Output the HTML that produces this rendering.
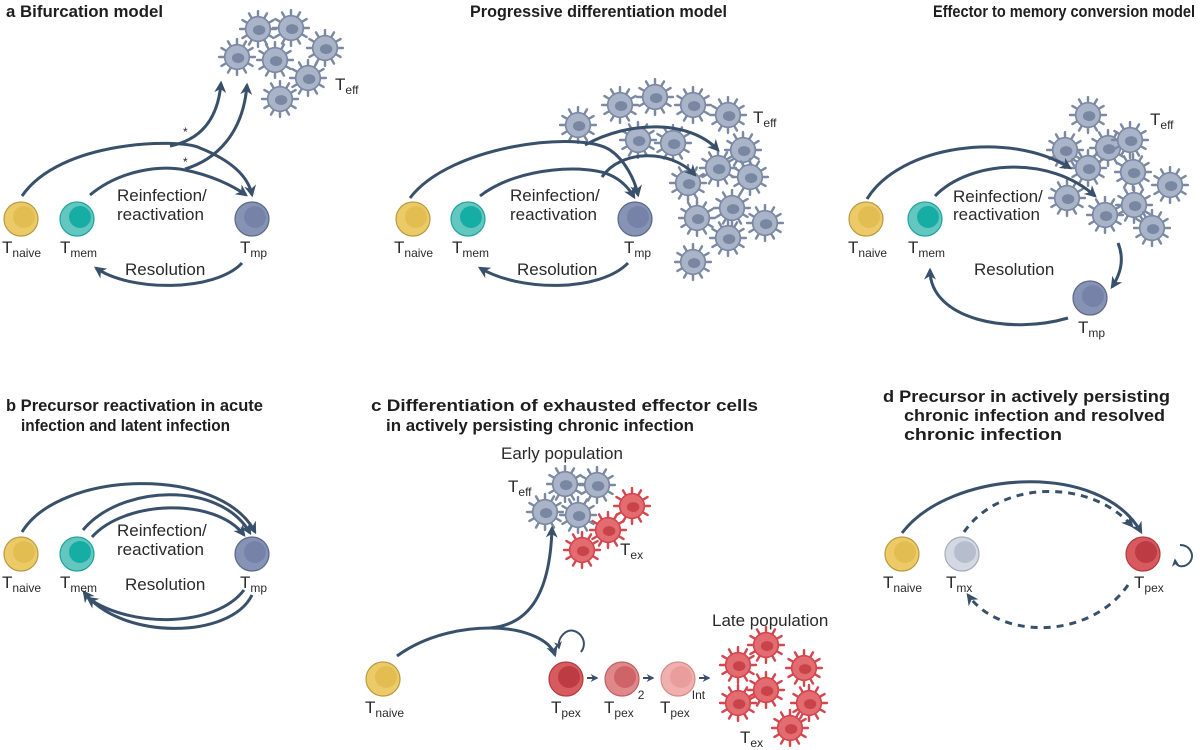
<!DOCTYPE html>
<html><head><meta charset="utf-8"><style>
html,body{margin:0;padding:0;background:#fff}
svg{display:block}
text{font-family:"Liberation Sans",sans-serif;fill:#2a2a2a}
.h{font-weight:bold;font-size:16.5px;fill:#1e1e1e}
.l{font-size:17px}
.s{font-size:12px}
.ar{fill:none;stroke:#39506b;stroke-width:3;marker-end:url(#ah)}
.ar2{fill:none;stroke:#39506b;stroke-width:2;marker-end:url(#ah)}
.dash{stroke-dasharray:7 6}
</style></head><body>
<svg width="1200" height="750" viewBox="0 0 1200 750" xmlns="http://www.w3.org/2000/svg">
<defs>
<marker id="ah" viewBox="0 0 10 10" refX="8" refY="5" markerWidth="4" markerHeight="4" orient="auto"><path d="M0,0 L10,5 L0,10 L3,5z" fill="#39506b"/></marker>
<g id="sg"><g transform="scale(1.12)">
<g stroke="#7b89a3" stroke-width="2.2" stroke-linecap="round">
<path d="M10,0H16M8.66,5L13.86,8M5,8.66L8,13.86M0,10V16M-5,8.66L-8,13.86M-8.66,5L-13.86,8M-10,0H-16M-8.66,-5L-13.86,-8M-5,-8.66L-8,-13.86M0,-10V-16M5,-8.66L8,-13.86M8.66,-5L13.86,-8"/>
</g>
<circle r="11" fill="#a9b4c8" stroke="#7b89a3" stroke-width="1.5"/>
<ellipse cx="1" cy="1" rx="5.5" ry="4.5" fill="#7a87a2"/>
</g></g>
<g id="sr"><g transform="scale(1.12)">
<g stroke="#d5474e" stroke-width="2.2" stroke-linecap="round">
<path d="M10,0H16M8.66,5L13.86,8M5,8.66L8,13.86M0,10V16M-5,8.66L-8,13.86M-8.66,5L-13.86,8M-10,0H-16M-8.66,-5L-13.86,-8M-5,-8.66L-8,-13.86M0,-10V-16M5,-8.66L8,-13.86M8.66,-5L13.86,-8"/>
</g>
<circle r="11" fill="#e26c70" stroke="#d5474e" stroke-width="1.5"/>
<ellipse cx="1" cy="1" rx="5.5" ry="4.5" fill="#c9434a"/>
</g></g>
<g id="cn"><circle r="17" fill="#ecca68" stroke="#b99b3e" stroke-width="1.2"/><circle cx="3" cy="-2" r="11" fill="#e2bd52"/></g>
<g id="cm"><circle r="17" fill="#63c6bf" stroke="#1ea39b" stroke-width="1.2"/><circle cx="3" cy="-2" r="11" fill="#16aea4"/></g>
<g id="cp"><circle r="17" fill="#8793b5" stroke="#5a6888" stroke-width="1.2"/><circle cx="3" cy="-2" r="11" fill="#7682a8"/></g>
<g id="cx"><circle r="17" fill="#d3d8e3" stroke="#a3abbd" stroke-width="1.2"/><circle cx="3" cy="-2" r="11" fill="#b6bdcc"/></g>
<g id="ce"><circle r="17" fill="#d75a5f" stroke="#b43a40" stroke-width="1.2"/><circle cx="3" cy="-2" r="11" fill="#bd3b42"/></g>
<g id="ce2"><circle r="17" fill="#df8789" stroke="#c06064" stroke-width="1.2"/><circle cx="3" cy="-2" r="11" fill="#cf6468"/></g>
<g id="ce3"><circle r="17" fill="#f0b0ae" stroke="#d88a8a" stroke-width="1.2"/><circle cx="3" cy="-2" r="11" fill="#e99e9c"/></g>
</defs>

<!-- Headers -->
<text x="6" y="17" class="h" textLength="157" lengthAdjust="spacingAndGlyphs">a  Bifurcation model</text>
<text x="470" y="17" class="h" textLength="257" lengthAdjust="spacingAndGlyphs">Progressive differentiation model</text>
<text x="933" y="17" class="h" textLength="262" lengthAdjust="spacingAndGlyphs">Effector to memory conversion model</text>
<text x="6" y="411" class="h" textLength="257" lengthAdjust="spacingAndGlyphs">b  Precursor reactivation in acute</text>
<text x="21" y="431" class="h" textLength="209" lengthAdjust="spacingAndGlyphs">infection and latent infection</text>
<text x="371" y="411" class="h" textLength="387" lengthAdjust="spacingAndGlyphs">c  Differentiation of exhausted effector cells</text>
<text x="386" y="431" class="h" textLength="308" lengthAdjust="spacingAndGlyphs">in actively persisting chronic infection</text>
<text x="883" y="402" class="h" textLength="287" lengthAdjust="spacingAndGlyphs">d  Precursor in actively persisting</text>
<text x="904" y="421" class="h" textLength="261" lengthAdjust="spacingAndGlyphs">chronic infection and resolved</text>
<text x="904" y="440" class="h" textLength="158" lengthAdjust="spacingAndGlyphs">chronic infection</text>

<!-- Panel a1 -->
<g>
<use href="#sg" x="258" y="29"/><use href="#sg" x="291" y="28"/><use href="#sg" x="325" y="48"/>
<use href="#sg" x="237" y="57"/><use href="#sg" x="275" y="60"/><use href="#sg" x="308" y="78"/><use href="#sg" x="280" y="99"/>
<text x="335" y="90" class="l">T<tspan class="s" dy="4">eff</tspan></text>
<path class="ar" d="M22,196 C60,140 180,138 200,148 C230,160 248,175 252,195"/>
<path class="ar" d="M170,146 C200,140 218,120 221,83"/>
<path class="ar" d="M90,195 C120,170 160,165 185,170 C210,175 232,185 246,195"/>
<path class="ar" d="M185,169 C215,160 243,135 247,85"/>
<text x="183" y="136" style="font-size:12px">*</text>
<text x="183" y="166" style="font-size:12px">*</text>
<path class="ar" d="M242,263 C215,292 130,292 96,268"/>
<use href="#cn" x="21" y="219"/><use href="#cm" x="77" y="219"/><use href="#cp" x="252" y="219"/>
<text x="117" y="201" class="l">Reinfection/</text><text x="117" y="220" class="l">reactivation</text>
<text x="125" y="275" class="l">Resolution</text>
<text x="2" y="253" class="l">T<tspan class="s" dy="4">naive</tspan></text>
<text x="60" y="253" class="l">T<tspan class="s" dy="4">mem</tspan></text>
<text x="240" y="253" class="l">T<tspan class="s" dy="4">mp</tspan></text>
</g>

<!-- Panel a2 -->
<g>
<use href="#sg" x="578" y="125"/><use href="#sg" x="620" y="105"/><use href="#sg" x="655" y="97"/><use href="#sg" x="693" y="105"/><use href="#sg" x="728" y="115"/>
<use href="#sg" x="638" y="140"/><use href="#sg" x="673" y="143"/><use href="#sg" x="743" y="150"/><use href="#sg" x="718" y="168"/><use href="#sg" x="750" y="177"/>
<use href="#sg" x="688" y="183"/><use href="#sg" x="732" y="208"/><use href="#sg" x="697" y="218"/><use href="#sg" x="765" y="223"/><use href="#sg" x="728" y="238"/><use href="#sg" x="693" y="262"/>
<text x="753" y="123" class="l">T<tspan class="s" dy="4">eff</tspan></text>
<path class="ar" d="M410,198 C450,145 580,130 610,150 C625,160 635,180 638,195"/>
<path class="ar" d="M480,196 C520,165 590,165 610,175 C622,180 630,190 634,197"/>
<path class="ar" d="M585,145 C630,120 690,120 718,150"/>
<path class="ar" d="M602,177 C620,150 670,148 695,175"/>
<path class="ar" d="M628,263 C600,292 520,292 480,268"/>
<use href="#cn" x="413" y="219"/><use href="#cm" x="468" y="219"/><use href="#cp" x="635" y="219"/>
<text x="510" y="201" class="l">Reinfection/</text><text x="510" y="220" class="l">reactivation</text>
<text x="517" y="275" class="l">Resolution</text>
<text x="394" y="253" class="l">T<tspan class="s" dy="4">naive</tspan></text>
<text x="452" y="253" class="l">T<tspan class="s" dy="4">mem</tspan></text>
<text x="624" y="253" class="l">T<tspan class="s" dy="4">mp</tspan></text>
</g>

<!-- Panel a3 -->
<g>
<use href="#sg" x="1088" y="115"/><use href="#sg" x="1065" y="150"/><use href="#sg" x="1108" y="148"/><use href="#sg" x="1130" y="140"/>
<use href="#sg" x="1088" y="168"/><use href="#sg" x="1133" y="172"/><use href="#sg" x="1170" y="185"/><use href="#sg" x="1067" y="198"/>
<use href="#sg" x="1105" y="215"/><use href="#sg" x="1134" y="205"/><use href="#sg" x="1152" y="228"/>
<text x="1150" y="125" class="l">T<tspan class="s" dy="4">eff</tspan></text>
<path class="ar" d="M867,199 C900,145 1010,130 1070,168"/>
<path class="ar" d="M935,196 C970,160 1050,155 1095,196"/>
<path class="ar" d="M1118,243 C1125,260 1120,275 1112,287"/>
<path class="ar" d="M1068,318 C1010,335 930,320 930,270"/>
<use href="#cn" x="866" y="219"/><use href="#cm" x="925" y="219"/><use href="#cp" x="1090" y="298"/>
<text x="953" y="202" class="l">Reinfection/</text><text x="953" y="220" class="l">reactivation</text>
<text x="974" y="275" class="l">Resolution</text>
<text x="848" y="253" class="l">T<tspan class="s" dy="4">naive</tspan></text>
<text x="908" y="253" class="l">T<tspan class="s" dy="4">mem</tspan></text>
<text x="1078" y="333" class="l">T<tspan class="s" dy="4">mp</tspan></text>
</g>

<!-- Panel b -->
<g>
<path class="ar" d="M22,532 C60,470 220,465 255,532"/>
<path class="ar" d="M83,530 C120,485 220,480 250,533"/>
<path class="ar" d="M92,537 C125,500 215,497 244,535"/>
<path class="ar" d="M244,590 C215,628 130,628 88,598"/>
<path class="ar" d="M252,595 C230,640 120,640 84,592"/>
<use href="#cn" x="21" y="554"/><use href="#cm" x="77" y="554"/><use href="#cp" x="252" y="554"/>
<text x="117" y="536" class="l">Reinfection/</text><text x="117" y="555" class="l">reactivation</text>
<text x="125" y="590" class="l">Resolution</text>
<text x="2" y="588" class="l">T<tspan class="s" dy="4">naive</tspan></text>
<text x="60" y="588" class="l">T<tspan class="s" dy="4">mem</tspan></text>
<text x="240" y="588" class="l">T<tspan class="s" dy="4">mp</tspan></text>
</g>

<!-- Panel c -->
<g>
<text x="501" y="459" class="l">Early population</text>
<use href="#sg" x="565" y="484"/><use href="#sg" x="597" y="485"/><use href="#sg" x="545" y="512"/><use href="#sg" x="578" y="515"/>
<use href="#sr" x="632" y="506"/><use href="#sr" x="608" y="530"/><use href="#sr" x="582" y="550"/>
<text x="508" y="492" class="l">T<tspan class="s" dy="4">eff</tspan></text>
<text x="620" y="555" class="l">T<tspan class="s" dy="4">ex</tspan></text>
<path class="ar" d="M397,656 C430,632 470,628 490,628 C525,628 550,640 555,655"/>
<path class="ar" d="M490,628 C525,625 550,600 552,528"/>
<path class="ar2" d="M581,652 C590,640 576,626 566,632 C560,636 558,642 559,648"/>
<path class="ar2" d="M587,678 H597"/><path class="ar2" d="M643,678 H653"/><path class="ar2" d="M699,678 H709"/>
<use href="#cn" x="383" y="679"/><use href="#ce" x="566" y="679"/><use href="#ce2" x="622" y="679"/><use href="#ce3" x="678" y="679"/>
<text x="365" y="713" class="l">T<tspan class="s" dy="4">naive</tspan></text>
<text x="551" y="713" class="l">T<tspan class="s" dy="4">pex</tspan></text>
<text x="604" y="713" class="l">T<tspan class="s" dy="4">pex</tspan><tspan class="s" dx="4" dy="-18">2</tspan></text>
<text x="660" y="713" class="l">T<tspan class="s" dy="4">pex</tspan><tspan class="s" dx="2" dy="-18">Int</tspan></text>
<text x="712" y="626" class="l">Late population</text>
<use href="#sr" x="766" y="645"/><use href="#sr" x="738" y="665"/><use href="#sr" x="804" y="668"/><use href="#sr" x="766" y="690"/>
<use href="#sr" x="738" y="703"/><use href="#sr" x="809" y="703"/><use href="#sr" x="790" y="728"/>
<text x="740" y="743" class="l">T<tspan class="s" dy="4">ex</tspan></text>
</g>

<!-- Panel d -->
<g>
<path class="ar" d="M902,533 C950,470 1100,460 1141,532"/>
<path class="ar dash" d="M964,532 C1000,480 1090,478 1132,526"/>
<path class="ar dash" d="M1128,585 C1090,640 1000,640 968,595"/>
<path class="ar2" d="M1180,545 C1190,545 1195,555 1190,562 C1185,568 1176,568 1175,560"/>
<use href="#cn" x="902" y="554"/><use href="#cx" x="962" y="554"/><use href="#ce" x="1143" y="554"/>
<text x="883" y="588" class="l">T<tspan class="s" dy="4">naive</tspan></text>
<text x="946" y="588" class="l">T<tspan class="s" dy="4">mx</tspan></text>
<text x="1134" y="588" class="l">T<tspan class="s" dy="4">pex</tspan></text>
</g>
</svg>
</body></html>
